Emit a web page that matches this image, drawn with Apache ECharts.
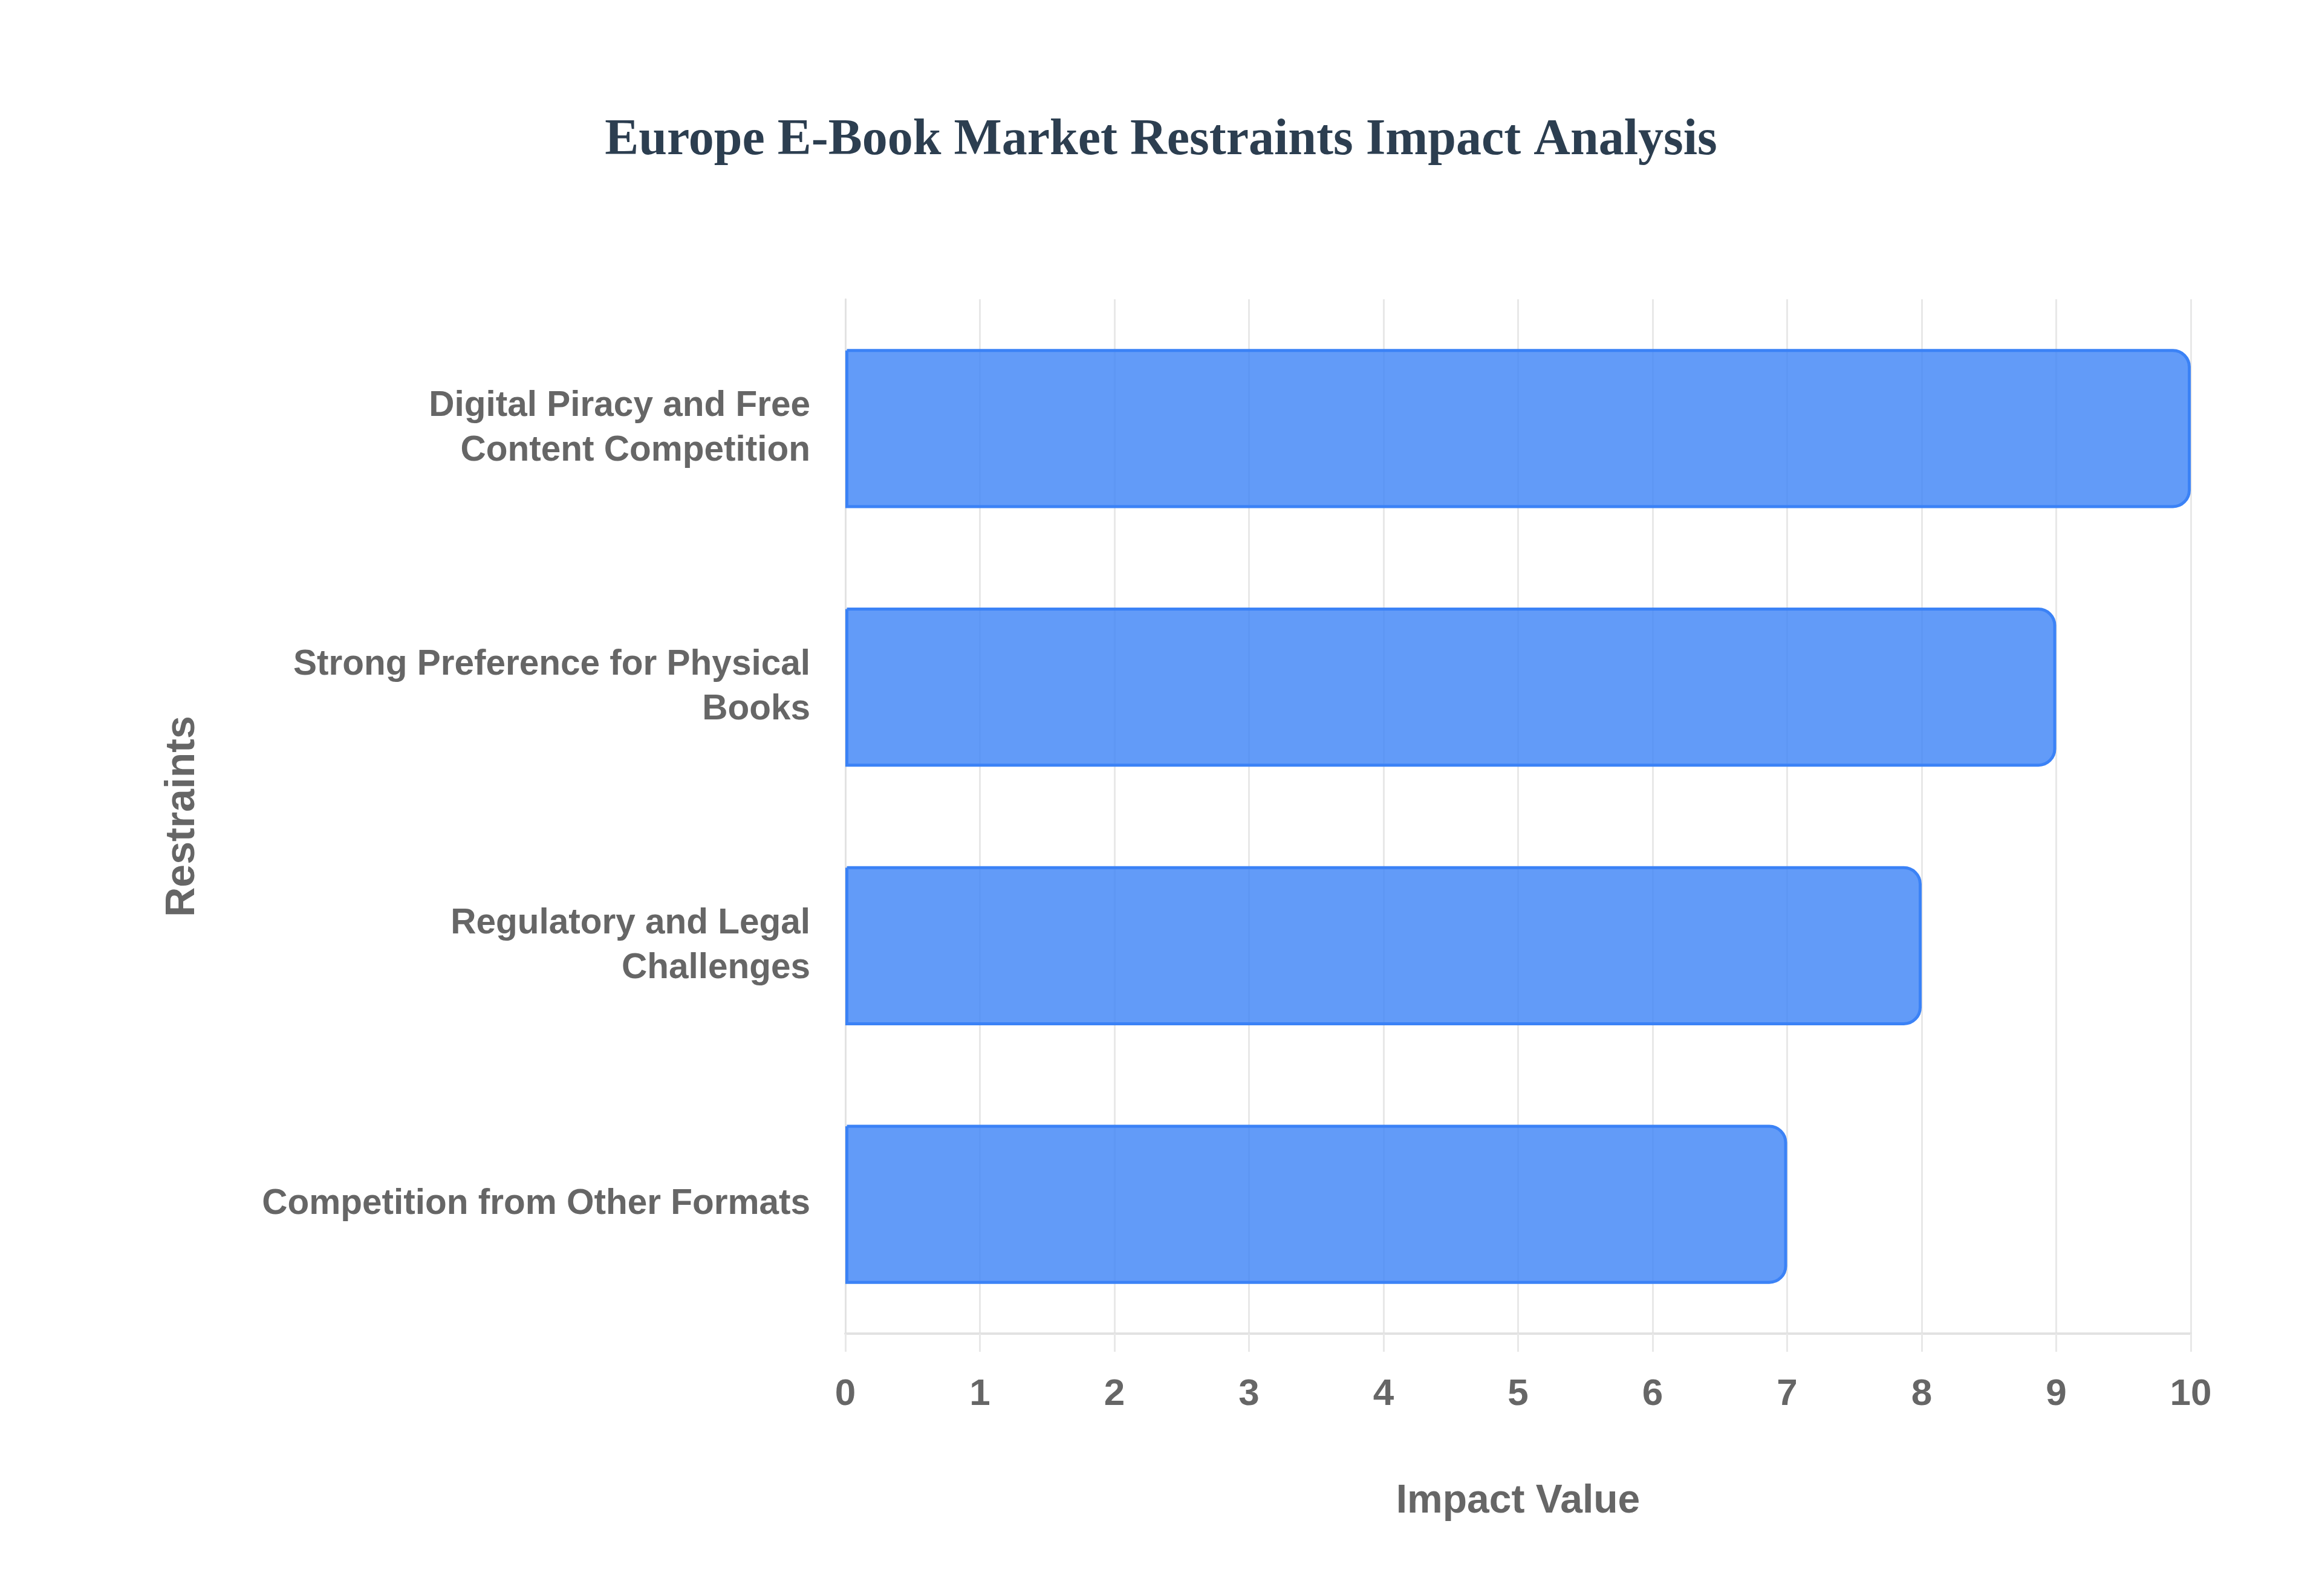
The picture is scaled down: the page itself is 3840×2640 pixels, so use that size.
<!DOCTYPE html>
<html>
<head>
<meta charset="utf-8">
<script src="https://cdn.jsdelivr.net/npm/echarts@6/dist/echarts.min.js"></script>
<style>
  html, body { margin: 0; padding: 0; background: #ffffff; }
  #chart { width: 3840px; height: 2640px; }
</style>
</head>
<body>
<div id="chart"></div>
<script>
// Data
const chartTitle = 'Europe E-Book Market Restraints Impact Analysis';
const restraints = [
  'Digital Piracy and Free\nContent Competition',
  'Strong Preference for Physical\nBooks',
  'Regulatory and Legal\nChallenges',
  'Competition from Other Formats'
];
const impactValues = [10, 9, 8, 7];
const xAxisName = 'Impact Value';
const yAxisName = 'Restraints';

const chart = echarts.init(document.getElementById('chart'), null, { renderer: 'canvas' });
const sans = '"Liberation Sans", Arial, Helvetica, sans-serif';
const option = {
  backgroundColor: '#ffffff',
  animation: false,
  title: {
    text: chartTitle,
    left: 'center',
    top: 191,
    padding: 0,
    textStyle: {
      fontFamily: '"Liberation Serif", "Times New Roman", serif',
      fontWeight: 'bold',
      fontSize: 84,
      color: '#2c3e50'
    }
  },
  grid: {
    left: 1398,
    right: 217,
    top: 495,
    bottom: 434,
    containLabel: false
  },
  xAxis: {
    type: 'value',
    min: 0,
    max: 10,
    interval: 1,
    name: xAxisName,
    nameLocation: 'middle',
    nameGap: 245,
    nameTextStyle: { fontFamily: sans, fontWeight: 'bold', fontSize: 66, color: '#666666' },
    axisLine: { show: true, lineStyle: { color: '#e2e2e2', width: 4 } },
    axisTick: { show: true, length: 30, lineStyle: { color: '#e8e8e8', width: 3 } },
    axisLabel: { margin: 70, fontFamily: sans, fontWeight: 'bold', fontSize: 62, color: '#666666' },
    splitLine: { show: true, lineStyle: { color: '#e8e8e8', width: 3 } }
  },
  yAxis: {
    type: 'category',
    data: restraints,
    inverse: true,
    name: yAxisName,
    nameLocation: 'middle',
    nameGap: 1062,
    nameTextStyle: { fontFamily: sans, fontWeight: 'bold', fontSize: 68, color: '#666666' },
    axisLine: { show: true, lineStyle: { color: '#e2e2e2', width: 3 } },
    axisTick: { show: false },
    axisLabel: {
      margin: 58,
      fontFamily: sans,
      fontWeight: 'bold',
      fontSize: 58.5,
      lineHeight: 74,
      color: '#666666',
      align: 'right'
    },
    splitLine: { show: false }
  },
  series: [{
    type: 'bar',
    data: impactValues,
    barWidth: '61.5%',
    itemStyle: {
      color: 'rgba(59, 130, 246, 0.8)',
      borderColor: '#3b82f6',
      borderWidth: 5,
      borderRadius: [0, 27, 27, 0]
    },
    label: { show: false }
  }]
};
chart.setOption(option);
</script>
</body>
</html>
